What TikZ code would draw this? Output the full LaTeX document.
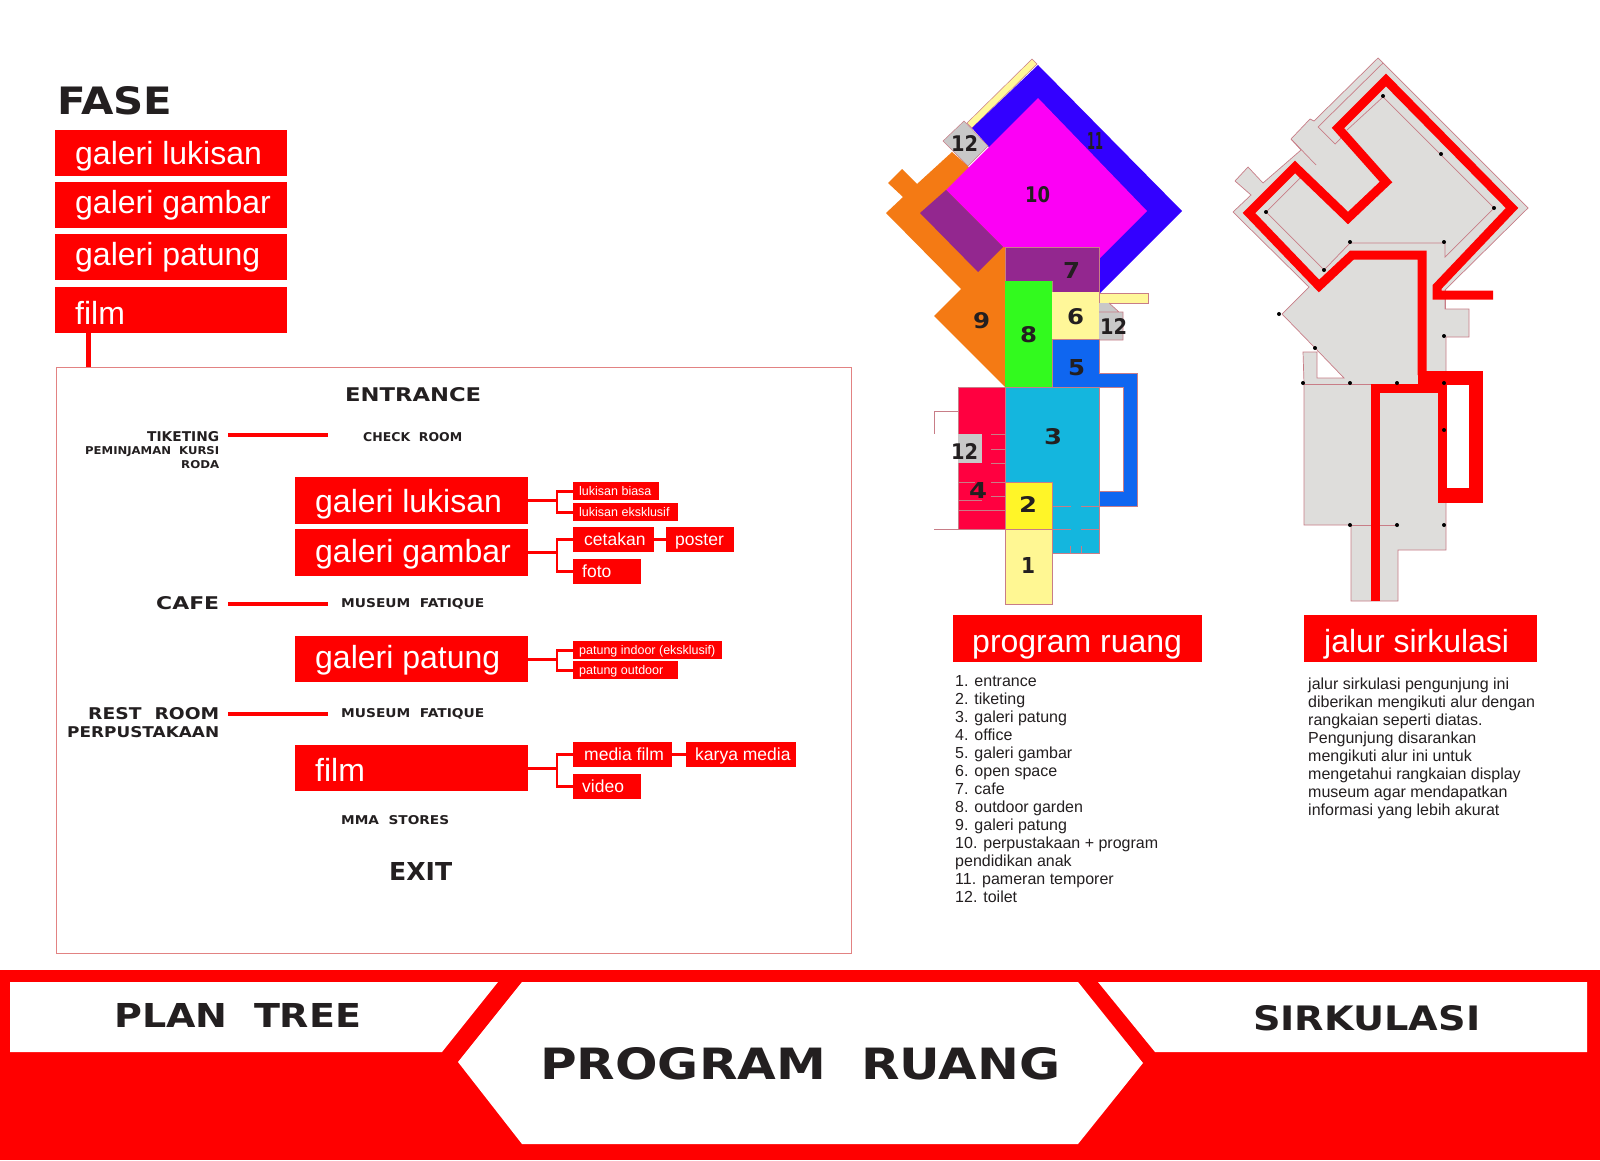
\documentclass[tikz,border=0pt]{standalone}
\usepackage{fontspec}
\usepackage{graphicx}
\setmainfont{Liberation Sans}
\newfontfamily\techfont{DejaVu Sans}
\usetikzlibrary{calc}
\definecolor{rd}{RGB}{255,0,0}
\definecolor{ink}{RGB}{35,31,32}
\definecolor{edgepink}{RGB}{226,130,130}
\definecolor{planedge}{RGB}{200,125,135}
\definecolor{cBlue}{RGB}{51,0,255}
\definecolor{cMag}{RGB}{252,0,245}
\definecolor{cMagD}{RGB}{190,10,170}
\definecolor{cPur}{RGB}{147,39,143}
\definecolor{cOra}{RGB}{244,122,20}
\definecolor{cGre}{RGB}{50,250,30}
\definecolor{cGreD}{RGB}{45,215,35}
\definecolor{cYel}{RGB}{255,247,153}
\definecolor{cBl5}{RGB}{15,102,240}
\definecolor{cCya}{RGB}{20,182,222}
\definecolor{cCyaD}{RGB}{24,150,185}
\definecolor{cRed}{RGB}{255,0,64}
\definecolor{cYe2}{RGB}{255,245,40}
\definecolor{cGry}{RGB}{200,200,200}
\definecolor{cFlo}{RGB}{222,221,219}
\pgfdeclareradialshading{magshade}{\pgfpoint{0bp}{0bp}}{color(0bp)=(cMag); color(38bp)=(cMag); color(50bp)=(cMagD); color(100bp)=(cMagD)}
\pgfdeclareradialshading{cyashade}{\pgfpoint{0bp}{0bp}}{color(0bp)=(cCya); color(40bp)=(cCya); color(62bp)=(cCyaD); color(100bp)=(cCyaD)}
\pgfdeclareradialshading{greshade}{\pgfpoint{0bp}{0bp}}{color(0bp)=(cGre); color(32bp)=(cGre); color(60bp)=(cGreD); color(100bp)=(cGreD)}
\tikzset{
  redbox/.style={fill=rd,draw=none,anchor=north west,inner sep=0pt,text=white,text height=0pt,text depth=0pt},
  techlabel/.style={anchor=south west,inner sep=0pt,text=ink},
  treeline/.style={draw=rd,line width=2.6pt},
  longline/.style={draw=rd,line width=4pt},
  tick/.style={draw=planedge,line width=.7pt},
  floorfill/.style={fill=cFlo,draw=planedge,line width=.7pt},
  floorline/.style={draw=planedge,line width=.7pt},
  floordot/.style={fill=black,draw=none,circle,minimum size=4pt,inner sep=0pt},
  route/.style={draw=rd,line width=9pt,line join=miter},
  listline/.style={anchor=west,inner sep=0pt,text=ink,font=\fontsize{16}{18}\selectfont}
}
% name, x, y, w, h, text offset, size, baseline below centre, text
\newcommand{\rbox}[9]{\node[redbox,minimum width=#4pt,minimum height=#5pt] (#1) at (#2,#3)
  {\makebox[#4pt][l]{\hspace*{#6pt}\raisebox{-#8pt}{\fontsize{#7}{#7}\selectfont #9}}};}
% name, x, ybottom, w, h, text
\newcommand{\tlabel}[6]{\node[techlabel] (#1) at (#2,#3) {\resizebox{#4pt}{#5pt}{\techfont\bfseries #6}};}
\begin{document}
\begin{tikzpicture}[x=1pt,y=-1pt]
\useasboundingbox (0,0) rectangle (1600,1160);
\fill[white] (0,0) rectangle (1600,1160);

% phase list
\tlabel{fase}{57}{115}{115}{28}{FASE}
\rbox{fa}{55}{130}{232}{46}{20}{32}{11}{galeri lukisan}
\rbox{fb}{55}{182}{232}{46}{20}{32}{8}{galeri gambar}
\rbox{fc}{55}{234}{232}{46}{20}{32}{8}{galeri patung}
\rbox{fd}{55}{287}{232}{46}{20}{32}{14}{film}

% tree frame
\node[draw=edgepink,line width=.8pt,anchor=north west,inner sep=0pt,minimum width=795pt,minimum height=586pt] (frame) at (56,367) {};
\draw[draw=rd,line width=5pt] ([xshift=33pt]fd.south west) -- ([xshift=32pt]frame.north west);

\tlabel{entr}{345}{402}{136}{14}{ENTRANCE}
\tlabel{check}{363}{442}{99}{9}{CHECK\ \ ROOM}
\tlabel{tik}{147}{442}{72}{10}{TIKETING}
\tlabel{pem}{85}{457}{134}{8}{PEMINJAMAN\ \ KURSI}
\tlabel{roda}{181}{469}{38}{8}{RODA}
\coordinate (t1) at (228,435);
\coordinate (t2) at (328,435);
\draw[longline] (t1) -- (t2);

\rbox{ga}{295}{477}{233}{47}{20}{32}{12}{galeri lukisan}
\rbox{gb}{295}{529}{233}{47}{20}{32}{10}{galeri gambar}
\rbox{gc}{295}{636}{233}{46}{20}{32}{9}{galeri patung}
\rbox{gd}{295}{745}{233}{46}{20}{32}{13}{film}

\rbox{lb}{573}{482}{86}{18}{6}{12.5}{4.7}{lukisan biasa}
\rbox{le}{573}{503}{105}{18}{6}{12.5}{4.7}{lukisan eksklusif}
\rbox{ce}{573}{527}{81}{25}{11}{17.5}{5.5}{cetakan}
\rbox{po}{666}{527}{68}{25}{9}{17.5}{5.5}{poster}
\rbox{fo}{573}{559}{68}{25}{9}{17.5}{5.5}{foto}
\rbox{pi}{573}{641}{149}{18}{6}{12.5}{4.7}{patung indoor (eksklusif)}
\rbox{po2}{573}{661}{105}{18}{6}{12.5}{4.7}{patung outdoor}
\rbox{mf}{573}{742}{99}{25}{11}{17.5}{5.5}{media film}
\rbox{ka}{686}{742}{110}{25}{9}{17.5}{5.5}{karya media}
\rbox{vi}{573}{774}{68}{25}{9}{17.5}{5.5}{video}

\draw[treeline] (lb.west) -- ++(-16,0) |- (ga.east);
\draw[treeline] (le.west) -- ++(-16,0) |- (ga.east);
\draw[treeline] (ce.west) -- ++(-16,0) |- (gb.east);
\draw[treeline] (fo.west) -- ++(-16,0) |- (gb.east);
\draw[treeline] (ce.east) -- (po.west);
\draw[treeline] (pi.west) -- ++(-16,0) |- (gc.east);
\draw[treeline] (po2.west) -- ++(-16,0) |- (gc.east);
\draw[treeline] (mf.west) -- ++(-16,0) |- (gd.east);
\draw[treeline] (vi.west) -- ++(-16,0) |- (gd.east);
\draw[treeline] (mf.east) -- (ka.west);

\tlabel{cafe}{156}{610}{63}{13}{CAFE}
\coordinate (c1) at (228,604);
\coordinate (c2) at (328,604);
\draw[longline] (c1) -- (c2);
\tlabel{mus}{341}{609}{143}{9}{MUSEUM\ \ FATIQUE}
\tlabel{rest}{88}{720}{131}{12}{REST\ \ ROOM}
\tlabel{perp}{67}{738}{152}{11}{PERPUSTAKAAN}
\coordinate (r1) at (228,714);
\coordinate (r2) at (328,714);
\draw[longline] (r1) -- (r2);
\tlabel{mus2}{341}{719}{143}{9}{MUSEUM\ \ FATIQUE}
\tlabel{mma}{341}{825}{108}{9}{MMA\ \ STORES}
\tlabel{exit}{389}{881}{63}{18}{EXIT}

% coloured plan
\fill[cYel,draw=planedge,line width=.5pt] (1032,59) -- (1037,64) -- (972,128) -- (967,123) -- cycle;
\fill[cBlue] (1038,65) -- (1182,211) -- (1100,293) -- (1060,250) -- (988,146) -- (972,128) -- cycle;
\fill[cOra] (952,152) -- (917,184) -- (902,169) -- (888,183) -- (903,197) -- (886,213) -- (961,289) -- (934,316) -- (1005,387) -- (1005,247) -- (968,166) -- cycle;
\fill[cGry,draw=planedge,line width=.5pt] (964,121) -- (988,146) -- (968,166) -- (943,141) -- cycle;
\shade[shading=magshade] (1038,98) -- (1147,211) -- (1100,258) -- (1100,247) -- (1003,247) -- (946,190) -- cycle;
\fill[cPur] (946,190) -- (920,213) -- (978,272) -- (1003,247) -- cycle;
\fill[cPur,draw=planedge,line width=.5pt] (1005,247) -- (1099,247) -- (1099,292) -- (1052,292) -- (1052,281) -- (1005,281) -- cycle;
\shade[shading=greshade] (1005,281) rectangle (1052,387);
\fill[cYel] (1052,292) rectangle (1099,339);
\fill[cYel,draw=planedge,line width=.5pt] (1099,293) rectangle (1148,303);
\fill[cGry] (1099,303) -- (1109,303) -- (1119,312) -- (1123,312) -- (1123,340) -- (1099,340) -- cycle;
\draw[floorline] (1099,312) -- (1123,312) -- (1123,340) -- (1099,340) (1109,303) -- (1119,312);
\fill[cBl5,draw=planedge,line width=.5pt] (1052,339) -- (1099,339) -- (1099,373) -- (1137,373) -- (1137,506) -- (1099,506) -- (1099,491) -- (1123,491) -- (1123,387) -- (1052,387) -- cycle;
\shade[shading=cyashade,draw=planedge,line width=.7pt] (1005,387) -- (1099,387) -- (1099,553) -- (1052,553) -- (1052,482) -- (1005,482) -- cycle;
\fill[cRed,draw=planedge,line width=.5pt] (958,387) rectangle (1005,529);
\fill[cGry] (958,434) rectangle (982,463);
\fill[cYe2,draw=planedge,line width=.5pt] (1005,482) rectangle (1052,529);
\fill[cYel!95!cYe2,draw=planedge,line width=.7pt] (1005,529) rectangle (1052,604);
\draw[tick] (958,411) -- (934,411) -- (934,434) (934,529) -- (958,529);
\foreach \yy in {434,449,463,496} \draw[tick] (991,\yy) -- (1005,\yy);
\draw[tick] (958,482) -- (975,482) (991,482) -- (1005,482) (958,500) -- (982,500) (958,510) -- (1005,510);
\foreach \yy in {506,529} \draw[tick] (1052,\yy) -- (1071,\yy) (1081,\yy) -- (1099,\yy);
\draw[tick] (1070,546) -- (1070,553) (1081,546) -- (1081,553);

\tlabel{n10}{1025}{203}{25}{16}{10}
\tlabel{n11}{1087}{150}{16}{17}{11}
\tlabel{n12a}{951}{152}{27}{16}{12}
\tlabel{n7}{1063}{279}{17}{16}{7}
\tlabel{n6}{1067}{325}{17}{16}{6}
\tlabel{n12b}{1100}{335}{27}{16}{12}
\tlabel{n9}{973}{329}{17}{16}{9}
\tlabel{n8}{1020}{343}{17}{16}{8}
\tlabel{n5}{1068}{376}{17}{16}{5}
\tlabel{n3}{1044}{445}{18}{16}{3}
\tlabel{n12c}{951}{460}{27}{16}{12}
\tlabel{n4}{969}{499}{18}{16}{4}
\tlabel{n2}{1019}{513}{18}{16}{2}
\tlabel{n1}{1021}{574}{14}{16}{1}

\rbox{pr}{953}{615}{249}{47}{19}{32}{14}{program ruang}
\foreach \nn/\tt [count=\ii from 0] in {l1/1. entrance,l2/2. tiketing,l3/3. galeri patung,l4/4. office,l5/5. galeri gambar,l6/6. open space,l7/7. cafe,l8/8. outdoor garden,l9/9. galeri patung,l10/10. perpustakaan + program,l11/pendidikan anak,l12/11. pameran temporer,l13/12. toilet}
  \node[listline] (\nn) at (955,{683+17.95*\ii}) {\strut\tt};

% circulation plan
\path[floorfill] (1378,58) -- (1528,208) -- (1445,290) -- (1445,309) -- (1469,309) -- (1469,337) -- (1446,337) -- (1446,550) -- (1398,550) -- (1398,601) -- (1351,601) -- (1351,525) -- (1304,525) -- (1304,384) -- (1303,352) -- (1317,352) -- (1317,378) -- (1344,378) -- (1317,350) -- (1282,314) -- (1309,287) -- (1233,212) -- (1251,195) -- (1235,181) -- (1248,167) -- (1263,183) -- (1301,150) -- (1291,139) -- (1310,119) -- (1314,121) -- cycle;
\draw[floorline] (1347,130) -- (1383,97) -- (1494,208) -- (1445,257) -- (1445,243) -- (1350,243) -- (1324,270) -- (1266,212) -- (1300,178);
\draw[floorline] (1383,63) -- (1318,127) -- (1335,144) -- (1347,132);
\draw[floorline] (1291,139) -- (1316,165);
\draw[floorline] (1304,384) -- (1446,384);
\draw[floorline] (1351,525) -- (1398,525);
\draw[floorline] (1445,290) -- (1445,309);
\draw[route] (1375,601) -- (1375,388) -- (1442,388) -- (1442,497);
\fill[rd] (1438,488) rectangle (1483,503);
\fill[rd] (1469,371) rectangle (1483,503);
\fill[rd] (1418,371) rectangle (1483,385);
\draw[route] (1422,375) -- (1422,255) -- (1352,255) -- (1319,286) -- (1249,213) -- (1295,167) -- (1348,218) -- (1386,182) -- (1338,128) -- (1386,80) -- (1512,208) -- (1437,287) -- (1437,295) -- (1493,295);
\foreach \px/\py [count=\ii] in {1383/96,1441/154,1494/208,1444/242,1350/242,1324/270,1266/212,1279/314,1444/336,1315/348,1303/383,1350/383,1397/383,1444/383,1444/430,1350/525,1397/525,1444/525}
  \node[floordot] (d\ii) at (\px,\py) {};

\rbox{js}{1304}{615}{233}{47}{20}{32}{14}{jalur sirkulasi}
\foreach \nn/\tt [count=\ii from 0] in {p1/jalur sirkulasi pengunjung ini,p2/diberikan mengikuti alur dengan,p3/rangkaian seperti diatas.,p4/Pengunjung disarankan,p5/mengikuti alur ini untuk,p6/mengetahui rangkaian display,p7/museum agar mendapatkan,p8/informasi yang lebih akurat}
  \node[listline] (\nn) at (1308,{686+18.05*\ii}) {\strut\tt};

% banner
\fill[rd] (0,970) rectangle (1600,1160);
\fill[white] (10,982) -- (498,982) -- (442,1052) -- (10,1052) -- cycle;
\fill[white] (522,982) -- (1078,982) -- (1143,1063) -- (1078,1144) -- (522,1144) -- (458,1062) -- cycle;
\fill[white] (1098,982) -- (1587,982) -- (1587,1052) -- (1155,1052) -- cycle;
\tlabel{plan}{114}{1028}{247}{24}{PLAN\ \ TREE}
\tlabel{sirk}{1253}{1031}{227}{25}{SIRKULASI}
\tlabel{prog}{540}{1080}{520}{32}{PROGRAM\ \ RUANG}
\end{tikzpicture}
\end{document}
